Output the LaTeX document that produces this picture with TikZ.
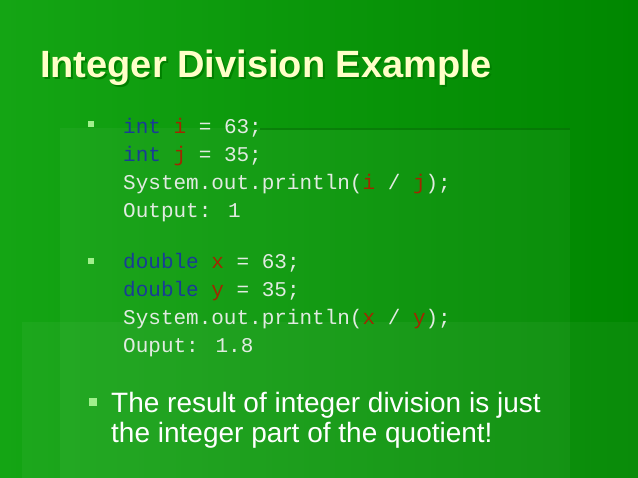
\documentclass[tikz,border=0pt]{standalone}
\usepackage{fontspec}
\setmainfont{Liberation Sans}
\newfontfamily\codefont{Liberation Mono}
\definecolor{bgA}{RGB}{20,165,20}
\definecolor{bgB}{RGB}{0,135,0}
\definecolor{kw}{RGB}{25,60,150}
\definecolor{vr}{RGB}{160,40,0}
\definecolor{cd}{RGB}{225,235,225}
\definecolor{ttl}{RGB}{255,255,200}
\definecolor{bul}{RGB}{160,240,140}
\tikzset{code/.style={anchor=base west,inner sep=0,text=cd,font=\codefont\fontsize{21}{21}\selectfont},
bl/.style={fill=bul,minimum size=6pt,inner sep=0},
big/.style={anchor=base west,inner sep=0,text=white,font=\fontsize{28}{28}\selectfont}}
\newcommand{\K}[1]{\textcolor{kw}{#1}}
\newcommand{\V}[1]{\textcolor{vr}{#1}}
\begin{document}
\begin{tikzpicture}[x=1pt,y=-1pt]
\useasboundingbox (0,0) rectangle (638,478);
\shade[left color=bgA,right color=bgB] (0,0) rectangle (638,478);
\fill[white,opacity=0.04] (60,128) rectangle (570,478);
\fill[white,opacity=0.04] (22,322) rectangle (638,478);
\draw[black!60!green,opacity=0.5,line width=2pt] (260,129) -- (570,129);
\node[anchor=base west,inner sep=0,text=black!50!green,font=\bfseries\fontsize{38}{38}\selectfont] at (42,80) {Integer Division Example};
\node[anchor=base west,inner sep=0,text=ttl,font=\bfseries\fontsize{38}{38}\selectfont] (title) at (40,78) {Integer Division Example};
\node[bl] (b1) at (91,124) {};
\node[code] (l1) at (123,134) {\K{int} \V{i} = 63;};
\node[code] (l2) at (123,162) {\K{int} \V{j} = 35;};
\node[code] (l3) at (123,190) {System.out.println(\V{i} / \V{j});};
\node[code] (l4) at (123,218) {Output: 1};
\node[bl] (b2) at (91,261) {};
\node[code] (l5) at (123,269) {\K{double} \V{x} = 63;};
\node[code] (l6) at (123,297) {\K{double} \V{y} = 35;};
\node[code] (l7) at (123,325) {System.out.println(\V{x} / \V{y});};
\node[code] (l8) at (123,353) {Ouput: 1.8};
\node[bl,minimum size=8pt] (b3) at (93,402) {};
\node[big] (t1) at (111,413) {The result of integer division is just};
\node[big] (t2) at (111,443) {the integer part of the quotient!};
\end{tikzpicture}
\end{document}
